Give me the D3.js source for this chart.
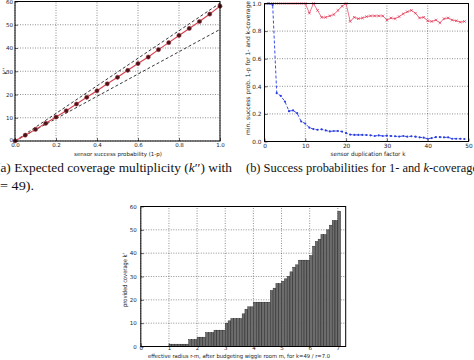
<!DOCTYPE html>
<html><head><meta charset="utf-8">
<script src="https://cdn.jsdelivr.net/npm/d3@7"></script>
<style>body{margin:0;background:#fff}svg{display:block}</style>
</head><body><svg id="c" width="474" height="360"></svg>
<script>
// ---- panel (a): expected coverage multiplicity
const probA = [0,0.05,0.1,0.15,0.2,0.25,0.3,0.35,0.4,0.45,0.5,0.55,0.6,0.65,0.7,0.75,0.8,0.85,0.9,0.95,1.0];
const kA    = [0,2.5,5.0,7.6,10.3,13.0,15.9,18.8,21.6,24.6,27.4,30.4,33.3,36.1,39.3,42.3,45.4,48.4,51.4,54.6,58.0];
const boundX = [0,1];
const upperA = [0,59.3];
const lowerA = [0,48];
const ticksAx = [0,0.2,0.4,0.6,0.8,1.0];
const ticksAy = [0,10,20,30,40,50,60];

// ---- panel (b): success probabilities
const kB = d3.range(1,50);
const redB = [1,1,1,1,1,1,1,1,1,1, 0.93,1.0,0.95,0.90,0.90,0.91,0.92,0.95,0.98,1.0,
  0.87,0.90,0.89,0.895,0.905,0.91,0.91,0.91,0.91,0.88, 0.895,0.89,0.905,0.925,0.94,0.95,0.93,0.895,0.90,0.875,
  0.87,0.88,0.86,0.89,0.895,0.88,0.875,0.865,0.87];
const blueB = [1.0,0.99,0.35,0.33,0.29,0.22,0.225,0.205,0.145,0.13, 0.10,0.09,0.085,0.088,0.08,0.073,0.076,0.076,0.072,0.06,
  0.05,0.048,0.048,0.048,0.047,0.045,0.04,0.044,0.04,0.042, 0.04,0.038,0.036,0.04,0.035,0.038,0.035,0.03,0.028,0.02,
  0.025,0.032,0.032,0.03,0.03,0.02,0.02,0.02,0.018];
const ticksBx = [0,10,20,30,40,50];
const ticksBy = [0,0.2,0.4,0.6,0.8,1.0];

// ---- panel (c): provided coverage bars
const radiusC = d3.range(0,61).map(i => +(1 + i*0.1).toFixed(1));
const coverC = [1,1,1,1,1,1,1,3,3,3, 4,4,4,6,6,6,7,7,7,7, 10,11,12,12,12,12,14,16,17,17,
  19,19,19,19,19,19,24,25,27,27, 28,29,30,32,34,35,37,37,37,37, 39,43,45,46,48,48,50,52,54,54, 58];
const ticksCx = [0,1,2,3,4,5,6,7];
const ticksCy = [0,10,20,30,40,50,60];

const svg = d3.select('#c');
const FONT = 'DejaVu Sans, sans-serif';

function frame(x, y, xt, yt, fx, fy, padX, padY, fs){
  const g = svg.append('g');
  const [x0,x1] = x.range(), [y0,y1] = y.range();
  g.selectAll('.gx').data(xt).join('line')
    .attr('x1', d=>x(d)).attr('x2', d=>x(d)).attr('y1', y0).attr('y2', y1)
    .attr('stroke','#444').attr('stroke-width',0.6).attr('stroke-dasharray','1,1.5');
  g.selectAll('.gy').data(yt).join('line')
    .attr('y1', d=>y(d)).attr('y2', d=>y(d)).attr('x1', x0).attr('x2', x1)
    .attr('stroke','#444').attr('stroke-width',0.6).attr('stroke-dasharray','1,1.5');
  const ax = g.append('g').attr('transform',`translate(0,${y0})`)
    .call(d3.axisBottom(x).tickValues(xt).tickFormat(fx).tickSize(-3).tickPadding(padX));
  const ay = g.append('g').attr('class','yax').attr('transform',`translate(${x0},0)`)
    .call(d3.axisLeft(y).tickValues(yt).tickFormat(fy).tickSize(-3).tickPadding(padY));
  [ax,ay].forEach(a=>{
    a.select('.domain').remove();
    a.selectAll('text').attr('font-family',FONT).attr('font-size',fs||6).attr('fill','#222');
    a.selectAll('line').attr('stroke','#000').attr('stroke-width',0.6);
  });
  return {ax, ay};
}
function box(x,y){
  const [x0,x1] = x.range(), [y0,y1] = y.range();
  svg.append('rect').attr('x',x0).attr('y',y1).attr('width',x1-x0).attr('height',y0-y1)
    .attr('fill','none').attr('stroke','#000').attr('stroke-width',1);
}
function label(t, x, y, len, rot, fs){
  const e = svg.append('text').attr('font-family',FONT).attr('font-size',fs||6).attr('fill','#222')
    .attr('text-anchor','middle').attr('dominant-baseline','middle')
    .attr('transform',`translate(${x},${y})${rot?' rotate(-90)':''}`).text(t);
  if(len) e.attr('textLength',len).attr('lengthAdjust','spacingAndGlyphs');
  return e;
}

// ===== (a)
const xA = d3.scaleLinear().domain([0,1]).range([15,220]);
const yA = d3.scaleLinear().domain([0,60]).range([141,1.5]);
const fa = frame(xA,yA,ticksAx,ticksAy,d3.format('.1f'),d3.format('d'),2,2,5.5);
fa.ay.selectAll('text').filter(d=>d===0).attr('dy','0.1em');
const lineA = d3.line().x(d=>xA(d[0])).y(d=>yA(d[1]));
[upperA,lowerA].forEach(arr=>{
  svg.append('path').datum(boundX.map((p,i)=>[p,arr[i]])).attr('d',lineA)
    .attr('fill','none').attr('stroke','#222').attr('stroke-width',0.9).attr('stroke-dasharray','3,2.2');
});
svg.append('path').datum(probA.map((p,i)=>[p,kA[i]])).attr('d',lineA)
  .attr('fill','none').attr('stroke','#d8404f').attr('stroke-width',1.1);
svg.selectAll('.mA').data(probA.map((p,i)=>[p,kA[i]])).join('circle')
  .attr('cx',d=>xA(d[0])).attr('cy',d=>yA(d[1])).attr('r',2.1)
  .attr('fill','#4a1418').attr('stroke','#9a2a35').attr('stroke-width',0.5);
box(xA,yA);
label('sensor success probability (1-p)',118,154,88,false,5.5);
label("k''",5,71,null,true);

// ===== (b)
const xB = d3.scaleLinear().domain([0,50]).range([264.5,468.5]);
const yB = d3.scaleLinear().domain([0,1]).range([141.5,3.5]);
frame(xB,yB,ticksBx,ticksBy,d3.format('d'),d3.format('.1f'),2.5,3,5.8);
const lineB = d3.line().x(d=>xB(d[0])).y(d=>yB(d[1]));
const redPts = kB.map((k,i)=>[k,redB[i]]);
const bluePts = kB.map((k,i)=>[k,blueB[i]]);
svg.append('path').datum(bluePts).attr('d',lineB).attr('fill','none')
  .attr('stroke','#3a4ee8').attr('stroke-width',1).attr('stroke-dasharray','3,2');
svg.selectAll('.mb').data(bluePts).join('circle')
  .attr('cx',d=>xB(d[0])).attr('cy',d=>yB(d[1])).attr('r',1.1).attr('fill','#2a3ee0');
svg.append('path').datum(redPts).attr('d',lineB).attr('fill','none')
  .attr('stroke','#e8506a').attr('stroke-width',0.8);
svg.selectAll('.mr').data(redPts).join('path')
  .attr('d',d=>{const cx=xB(d[0]),cy=yB(d[1]),s=1.3;return `M${cx-s},${cy-s}L${cx+s},${cy+s}M${cx-s},${cy+s}L${cx+s},${cy-s}`;})
  .attr('stroke','#e03050').attr('stroke-width',0.7).attr('fill','none');
box(xB,yB);
label('sensor duplication factor k',368,154,75,false,5.8);
label('min. success prob. 1-p for 1- and k-coverage',248,68,134,true);

// ===== captions
const cap = (x,y,len) => svg.append('text').attr('x',x).attr('y',y)
  .attr('font-family','Liberation Serif, DejaVu Serif, serif').attr('font-size',12.5).attr('fill','#111')
  .attr('textLength',len).attr('lengthAdjust','spacingAndGlyphs');
const c1 = cap(-4,171.5,236);
c1.append('tspan').text('(a) Expected coverage multiplicity (');
c1.append('tspan').attr('font-style','italic').text('k');
c1.append('tspan').text('′′) with');
cap(0,190,34).text('= 49).');
const c2 = cap(246,171.5,232);
c2.append('tspan').text('(b) Success probabilities for 1- and ');
c2.append('tspan').attr('font-style','italic').text('k');
c2.append('tspan').text('-coverage');

// ===== (c)
const xC = d3.scaleLinear().domain([0,7.28]).range([140.8,345.7]);
const yC = d3.scaleLinear().domain([0,60]).range([346.5,206.5]);
frame(xC,yC,ticksCx,ticksCy,d3.format('d'),d3.format('d'),0,4,5.5);
svg.selectAll('.bar').data(radiusC.map((r,i)=>[r,coverC[i]])).join('rect')
  .attr('x',d=>xC(d[0])).attr('width',xC(0.1)-xC(0))
  .attr('y',d=>yC(d[1])).attr('height',d=>yC(0)-yC(d[1]))
  .attr('fill','#6c6c6c').attr('stroke','#1a1a1a').attr('stroke-width',0.4);
box(xC,yC);
label('effective radius r-m, after budgeting wiggle room m, for k=49 / r=7.0',239,356.2,182,false,5.5);
label("provided coverage k'",125.5,280,54,true);
</script></body></html>
